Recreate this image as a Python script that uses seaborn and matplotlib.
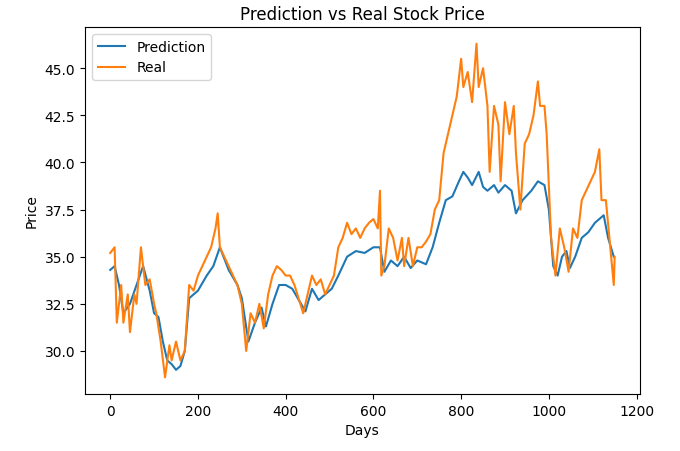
import matplotlib
matplotlib.use("Agg")
import matplotlib.pyplot as plt
import seaborn as sns
import pandas as pd

real_days = [0,10,15,25,30,40,45,55,60,70,80,90,100,105,115,125,135,140,150,160,170,180,190,200,210,220,230,240,245,250,260,270,280,290,300,310,320,330,340,350,360,370,380,390,400,410,420,440,450,460,470,480,490,500,510,520,530,540,550,560,570,580,590,600,610,615,618,625,635,645,655,665,670,680,690,700,710,720,730,740,750,760,770,780,790,800,805,815,825,835,840,850,860,865,875,885,890,900,910,920,925,935,945,955,965,975,980,990,995,1005,1015,1025,1035,1045,1055,1065,1075,1085,1095,1105,1115,1120,1130,1140,1148,1150]
real_price = [35.2,35.5,31.5,33.5,31.5,33.0,31.0,33.0,32.5,35.5,33.5,33.8,32.5,32.0,30.5,28.6,30.3,29.5,30.5,29.5,30.0,33.5,33.2,34.0,34.5,35.0,35.5,36.5,37.3,35.5,35.0,34.5,34.0,33.5,32.5,30.0,32.0,31.5,32.5,31.2,33.0,34.0,34.5,34.3,34.0,34.0,33.5,32.0,33.0,34.0,33.5,33.8,33.0,33.5,34.0,35.5,36.0,36.8,36.2,36.5,36.0,36.5,36.8,37.0,36.5,38.5,34.0,34.5,36.5,36.0,34.8,36.0,34.5,36.0,34.5,35.5,35.5,35.8,36.2,37.5,38.0,40.5,41.5,42.5,43.5,45.5,44.0,44.8,43.2,46.3,44.0,45.0,43.0,39.5,43.0,42.0,39.0,43.2,41.5,43.0,40.5,37.5,41.0,41.5,42.5,44.3,43.0,43.0,41.5,36.0,34.0,36.5,35.5,34.2,36.5,36.0,38.0,38.5,39.0,39.5,40.7,38.0,38.0,35.5,33.5,35.0]

pred_days = [0,10,20,30,45,60,75,90,100,110,120,130,140,150,160,170,180,200,220,235,250,270,290,300,315,330,345,355,370,385,400,415,430,445,460,475,490,505,520,540,560,580,600,615,625,640,655,670,685,700,720,735,750,765,780,795,805,815,825,840,850,860,875,885,900,915,925,940,960,975,990,1000,1010,1020,1030,1040,1048,1060,1075,1090,1105,1115,1125,1135,1148]
pred_price = [34.3,34.5,33.5,32.0,32.5,33.5,34.5,33.2,32.0,31.8,30.5,29.5,29.3,29.0,29.2,30.0,32.8,33.2,34.0,34.5,35.5,34.3,33.5,32.8,30.5,31.5,32.3,31.3,32.5,33.5,33.5,33.3,32.7,32.1,33.3,32.7,33.0,33.3,34.0,35.0,35.3,35.2,35.5,35.5,34.2,34.8,34.5,35.0,34.4,34.8,34.6,35.5,36.8,38.0,38.2,39.0,39.5,39.2,38.8,39.5,38.7,38.5,38.8,38.4,38.8,38.5,37.3,38.0,38.5,39.0,38.8,37.5,34.5,34.0,35.0,35.3,34.4,35.0,36.0,36.3,36.8,37.0,37.2,36.0,35.0]

fig, ax = plt.subplots(figsize=(6.8, 4.52), dpi=100)
sns.lineplot(x=pred_days, y=pred_price, ax=ax, color="#1f77b4", label="Prediction", linewidth=1.5)
sns.lineplot(x=real_days, y=real_price, ax=ax, color="#ff7f0e", label="Real", linewidth=1.5)
ax.set_title("Prediction vs Real Stock Price")
ax.set_xlabel("Days")
ax.set_ylabel("Price")
ax.set_xticks([0,200,400,600,800,1000,1200])
ax.set_yticks([30.0,32.5,35.0,37.5,40.0,42.5,45.0])
ax.legend(loc="upper left")
fig.subplots_adjust(left=0.125, right=0.941, top=0.938, bottom=0.126)
fig.savefig("out.png")
